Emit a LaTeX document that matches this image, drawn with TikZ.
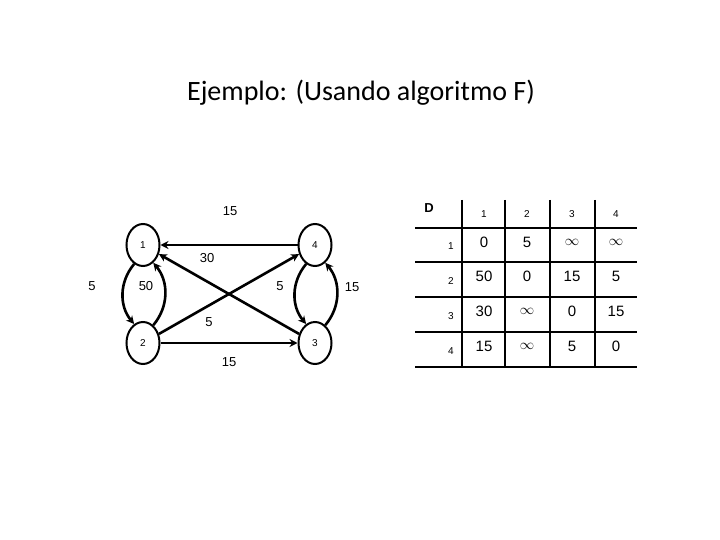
\documentclass[tikz,border=0pt]{standalone}
\usepackage{fontspec}
\setmainfont{Liberation Sans}
\newfontfamily\titlefont{Carlito}
\usetikzlibrary{arrows.meta,shapes.geometric}
\begin{document}
\begin{tikzpicture}[x=1pt,y=-1pt,
  vert/.style={draw,line width=2pt,ellipse,minimum width=33pt,minimum height=42pt,inner sep=0pt,font=\fontsize{10}{11}\selectfont},
  edge/.style={line width=2.6pt,-{Stealth[length=8pt,width=8pt]}},
  lbl/.style={font=\fontsize{13}{14}\selectfont},
  tl/.style={line width=2.2pt},
  hd/.style={font=\fontsize{10}{11}\selectfont},
  cell/.style={font=\fontsize{15}{16}\selectfont}]
\useasboundingbox (0,0) rectangle (720,540);
\node[font=\titlefont\fontsize{28}{32}\selectfont] (title) at (361,93) {Ejemplo: (Usando algoritmo F)};
\node[vert] (n1) at (143,245) {1};
\node[vert] (n4) at (315,245) {4};
\node[vert] (n2) at (143,343) {2};
\node[vert] (n3) at (315,343) {3};
\draw[edge] (n4) -- (n1);
\draw[edge] (n3) -- (n1);
\draw[edge] (n2) -- (n4);
\draw[edge] (n2) -- (n3);
\draw[edge] (n1.245) to[bend right=40] (n2.115);
\draw[edge] (n2.60) to[bend right=40] (n1.-60);
\draw[edge] (n4.245) to[bend right=40] (n3.115);
\draw[edge] (n3.60) to[bend right=40] (n4.-60);
\node[lbl] (l1) at (230,211) {15};
\node[lbl] (l2) at (207,258) {30};
\node[lbl] (l3) at (92,286) {5};
\node[lbl] (l4) at (146,286) {50};
\node[lbl] (l5) at (280,286) {5};
\node[lbl] (l6) at (352,287) {15};
\node[lbl] (l7) at (209,322) {5};
\node[lbl] (l8) at (229,362) {15};
% table
\foreach \x in {462,505,550,595} \draw[tl] (\x,200) -- (\x,367);
\foreach \y in {228,262,297,332} \draw[tl] (415,\y) -- (637,\y);
\draw[line width=2.8pt] (415,367) -- (637,367);
\node[font=\bfseries\fontsize{13}{14}\selectfont] (D) at (429,208) {D};
\node[hd] (c1) at (484,214) {1};
\node[hd] (c2) at (527,214) {2};
\node[hd] (c3) at (572,214) {3};
\node[hd] (c4) at (616,214) {4};
\node[hd] (r1) at (451,246) {1};
\node[hd] (r2) at (451,281) {2};
\node[hd] (r3) at (451,316) {3};
\node[hd] (r4) at (451,351) {4};
\foreach \r/\y/\a/\b/\c/\d in {1/242/0/5/$\infty$/$\infty$,2/276/50/0/15/5,3/311/30/$\infty$/0/15,4/346/15/$\infty$/5/0}{
  \node[cell] (v\r a) at (484,\y) {\a};
  \node[cell] (v\r b) at (527,\y) {\b};
  \node[cell] (v\r c) at (572,\y) {\c};
  \node[cell] (v\r d) at (616,\y) {\d};
}
\end{tikzpicture}
\end{document}
